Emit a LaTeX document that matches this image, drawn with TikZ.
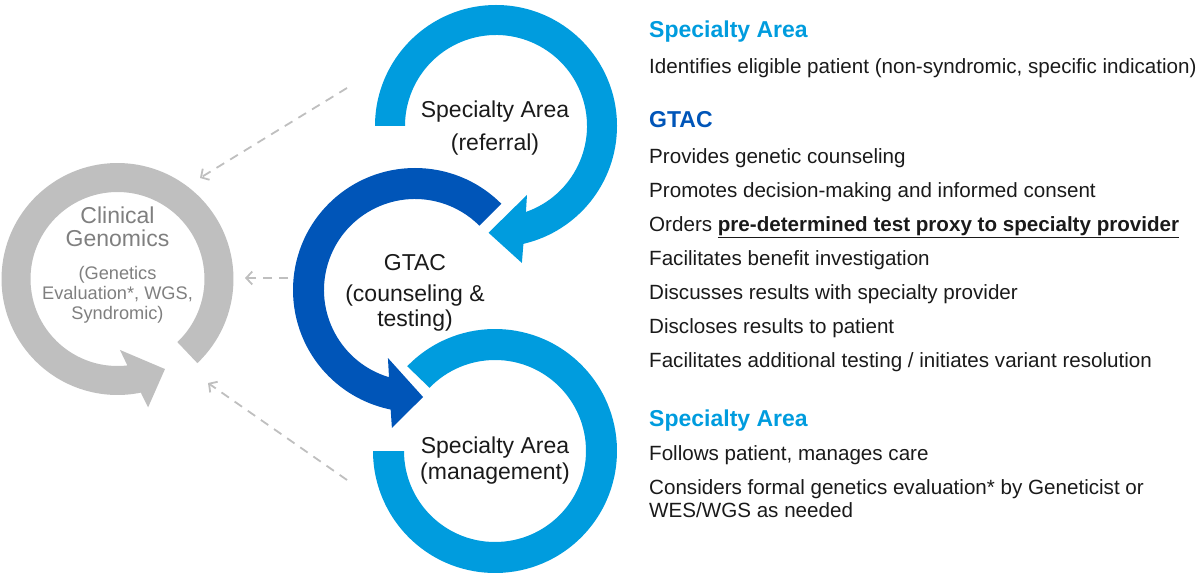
\documentclass[tikz,border=0pt]{standalone}
\usepackage{fontspec}
\setmainfont{Liberation Sans}
\usetikzlibrary{arrows.meta}
\definecolor{lblue}{HTML}{009CDE}
\definecolor{dblue}{HTML}{0055B8}
\definecolor{ringgrey}{HTML}{BFBFBF}
\definecolor{gtext}{HTML}{7F7F7F}
\definecolor{txt}{HTML}{1A1A1A}
\begin{document}
\begin{tikzpicture}[x=1pt,y=1pt,
  body/.style={anchor=base west, inner sep=0pt, text=txt, font=\fontsize{20.6}{23}\selectfont},
  headline/.style={anchor=base west, inner sep=0pt, font=\fontsize{23}{27}\selectfont\bfseries},
  ctext/.style={anchor=base, inner sep=0pt, text=txt, font=\fontsize{23}{26}\selectfont},
  gbig/.style={anchor=base, inner sep=0pt, text=gtext, font=\fontsize{23}{26}\selectfont},
  gsmall/.style={anchor=base, inner sep=0pt, text=gtext, font=\fontsize{18.2}{20}\selectfont},
  dashlink/.style={draw=ringgrey, line width=1.8pt, dash pattern=on 9pt off 7pt,
    -{Straight Barb[length=6pt,width=13pt,line width=1.8pt]}}
]
\useasboundingbox (0,0) rectangle (1200,-577);

% ---- Clinical Genomics (grey ring)
\begin{scope}[shift={(117.5,-279)}]
\fill[ringgrey] (-46.5:116) arc[start angle=-46.5,end angle=281.6,radius=116]
  -- (283.4:132) -- (297.8:101.8) -- (272:71) -- (276.5:87)
  arc[start angle=276.5,end angle=-46.5,radius=87] -- cycle;
\end{scope}

% ---- Specialty Area (referral) ring
\begin{scope}[shift={(496,-126)}]
\fill[lblue] (180:121) arc[start angle=180,end angle=-76.9,radius=121]
  -- (-79.3:139.4) -- (-94:107) -- (-65.8:75.6) -- (-70.8:91)
  arc[start angle=-70.8,end angle=180,radius=91] -- cycle;
\end{scope}

% ---- GTAC ring
\begin{scope}[shift={(415,-290)}]
\fill[dblue] (45:122) arc[start angle=45,end angle=258.5,radius=122]
  -- (260.5:139.9) -- (274.3:107.3) -- (248.3:73.2) -- (253.4:91)
  arc[start angle=253.4,end angle=45,radius=91] -- cycle;
\end{scope}

% ---- Specialty Area (management) ring
\begin{scope}[shift={(495,-451)}]
\fill[lblue] (136:122) arc[start angle=136,end angle=-180,radius=122]
  -- (-180:91) arc[start angle=-180,end angle=136,radius=91] -- cycle;
\end{scope}

% ---- circle labels
\node[gbig] (cg1) at (117.5,-224) {Clinical};
\node[gbig] (cg2) at (117.5,-247) {Genomics};
\node[gsmall] (cg3) at (117.5,-280) {(Genetics};
\node[gsmall] (cg4) at (117.5,-300) {Evaluation*, WGS,};
\node[gsmall] (cg5) at (117.5,-320) {Syndromic)};

\node[ctext] (ref1) at (495,-118) {Specialty Area};
\node[ctext] (ref2) at (495,-151) {(referral)};

\node[ctext] (gt1) at (415,-271) {GTAC};
\node[ctext] (gt2) at (415,-302) {(counseling \&};
\node[ctext] (gt3) at (415,-327) {testing)};

\node[ctext] (man1) at (495,-453) {Specialty Area};
\node[ctext] (man2) at (495,-479) {(management)};

% ---- dashed feedback arrows
\coordinate (d1s) at (347,-88);  \coordinate (d1e) at (200,-178);
\coordinate (d2s) at (288,-278); \coordinate (d2e) at (245,-278);
\coordinate (d3s) at (347,-480); \coordinate (d3e) at (208,-383);
\draw[dashlink] (d1s) -- (d1e);
\draw[dashlink] (d2s) -- (d2e);
\draw[dashlink] (d3s) -- (d3e);

% ---- right-hand text
\node[headline,text=lblue] (h1) at (649,-38) {Specialty Area};
\node[body] (t1) at (649,-74) {Identifies eligible patient (non-syndromic, specific indication)};
\node[headline,text=dblue] (h2) at (649,-128) {GTAC};
\node[body] (t2) at (649,-164) {Provides genetic counseling};
\node[body] (t3) at (649,-198) {Promotes decision-making and informed consent};
\node[body] (t4) at (649,-232) {Orders \underline{\textbf{pre-determined test proxy to specialty provider}}};
\node[body] (t5) at (649,-266) {Facilitates benefit investigation};
\node[body] (t6) at (649,-300) {Discusses results with specialty provider};
\node[body] (t7) at (649,-334) {Discloses results to patient};
\node[body] (t8) at (649,-368) {Facilitates additional testing / initiates variant resolution};
\node[headline,text=lblue] (h3) at (649,-426) {Specialty Area};
\node[body] (t9) at (649,-460) {Follows patient, manages care};
\node[body] (t10) at (649,-494) {Considers formal genetics evaluation* by Geneticist or};
\node[body] (t11) at (649,-517) {WES/WGS as needed};
\end{tikzpicture}
\end{document}
